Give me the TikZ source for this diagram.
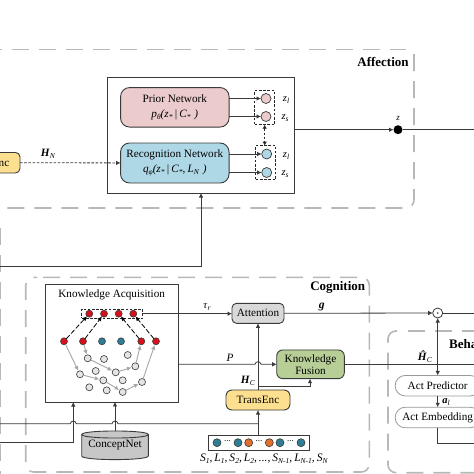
\documentclass[tikz,border=0pt]{standalone}
\usepackage{fontspec}
\setmainfont{Liberation Serif}
\usetikzlibrary{arrows.meta}
\definecolor{ln}{HTML}{3A3A3A}
\definecolor{dashgray}{HTML}{B8B8B8}
\definecolor{priorfill}{HTML}{EBCBCB}
\definecolor{recfill}{HTML}{AFD8E6}
\definecolor{yel}{HTML}{FDE08F}
\definecolor{grn}{HTML}{B7CF97}
\definecolor{redn}{HTML}{D9101C}
\definecolor{tealn}{HTML}{2E7F95}
\definecolor{orgn}{HTML}{E0702B}
\newcommand\fs[1]{\fontsize{#1}{#1}\selectfont}
\newcommand\lo[1]{\raisebox{-0.4ex}{\fs{7.5}\textit{#1}}}
\newcommand\cm{\textit{,}\kern2pt}
\tikzset{
 x=1pt,y=-1pt,
 wire/.style={draw=ln,line width=0.8pt},
 arr/.style={wire,-{Latex[length=4.5pt,width=4.5pt]}},
 darr/.style={wire,{Latex[length=4.5pt,width=4.5pt]}-{Latex[length=4.5pt,width=4.5pt]}},
 dwire/.style={draw=black!85,line width=0.8pt,dash pattern=on 2.6pt off 1.6pt},
 area/.style={draw=dashgray,line width=1.6pt,dash pattern=on 17pt off 10pt,rounded corners=8pt},
 bx/.style={draw=ln,line width=0.9pt,inner sep=0pt,outer sep=0pt,align=center},
 rbx/.style={bx,rounded corners=4.5pt,font=\fs{11.2}},
 sq/.style={draw=ln,line width=0.9pt,fill=white,inner sep=0pt,outer sep=0pt},
 dbox/.style={dwire,inner sep=0pt,outer sep=0pt},
 lat/.style={circle,draw=ln,line width=0.7pt,minimum size=10pt,inner sep=0pt,outer sep=0pt},
 kn/.style={circle,draw=ln,line width=0.6pt,minimum size=7pt,inner sep=0pt,outer sep=0pt},
 rn/.style={kn,fill=redn},
 tn/.style={kn,fill=tealn},
 gn/.style={kn,fill=black!10},
 sn/.style={circle,draw=ln,line width=0.6pt,minimum size=8pt,inner sep=0pt,outer sep=0pt},
 lab/.style={inner sep=0pt,font=\fs{11.2}},
 ttl/.style={inner sep=0pt,font=\fs{13}\bfseries},
 actb/.style={draw=black!40,line width=0.8pt,rounded corners=10pt,inner sep=0pt,outer sep=0pt,minimum width=85pt,minimum height=20.5pt,fill=white,font=\fs{11.2}},
 garr/.style={draw=black!35,line width=0.9pt,-{Latex[length=4.5pt,width=4.5pt]},shorten >=0.5pt},
 karr/.style={draw=black,line width=0.8pt,dash pattern=on 5pt off 2pt,-{Latex[length=4.5pt,width=4.5pt]}},
}
\begin{document}
\begin{tikzpicture}
\useasboundingbox (0,0) rectangle (474,474);
\clip (0,0) rectangle (474,474);
\fill[white] (0,0) rectangle (474,474);
% dashed areas
\draw[area] (-15.3,49.3) -- (405.7,49.3);
\draw[area] (414,54) -- (414,208) -- (-17,208);
\draw[area] (0.5,228) -- (0.5,480);
\draw[area] (43,277.3) -- (369.3,277.3) -- (369.3,472) -- (25.7,472) -- (25.7,277.3) -- (37,277.3);
\draw[area] (408,331) -- (480,331);
\draw[area] (397,331) -- (388,331) -- (388,472.7) -- (480,472.7);
\node[ttl] (taff) at (383,62) {Affection};
\node[ttl] (tcog) at (337.7,287.7) {Cognition};
\node[ttl,anchor=west] (tbeh) at (449,344) {Behavior};
% Affection
\node[sq,minimum width=186.5pt,minimum height=116pt] (vae) at (200.8,135) {};
\node[rbx,fill=priorfill,rounded corners=9pt,minimum width=108.5pt,minimum height=39.5pt] (prior) at (174.8,107.3) {Prior Network\\[3pt]\textit{p}\lo{θ}\textit{(z}\lo{*}\,\textit{|\,C}\lo{*}\,\textit{\,)}};
\node[rbx,fill=recfill,rounded corners=9pt,minimum width=108.5pt,minimum height=40pt] (rec) at (174.8,163) {Recognition Network\\[3pt]\textit{q}\lo{φ}\textit{(z}\lo{*}\,\textit{|\,C}\lo{*}\cm\textit{L}\lo{N}\,\textit{\,)}};
\node[rbx,fill=yel,minimum width=64pt,minimum height=20.5pt] (henc) at (-12,162.7) {TransEnc};
\node[lat,fill=priorfill] (pl) at (266,98.5) {};
\node[lat,fill=priorfill] (ps) at (266,116.5) {};
\node[lat,fill=recfill] (rl) at (266.7,154) {};
\node[lat,fill=recfill] (rs) at (266.7,172.5) {};
\node[dbox,draw,minimum width=20pt,minimum height=34pt] (pbox) at (264.7,107.7) {};
\node[dbox,draw,minimum width=20pt,minimum height=34pt] (rbox) at (265.7,162.6) {};
\draw[arr] (prior.east |- pl) -- (pl);
\draw[arr] (prior.east |- ps) -- (ps);
\draw[arr] (rec.east |- rl) -- (rl);
\draw[arr] (rec.east |- rs) -- (rs);
\draw[dwire,{Latex[length=4pt,width=4.5pt]}-{Latex[length=4pt,width=4.5pt]}] (pbox.south) -- (pbox.south |- rbox.north);
\node[lab,font=\fs{10.5}] (zl1) at (286,100) {\textit{z}\lo{l}};
\node[lab,font=\fs{10.5}] (zs1) at (285,118) {\textit{z}\lo{s}};
\node[lab,font=\fs{10.5}] (zl2) at (286,156) {\textit{z}\lo{l}};
\node[lab,font=\fs{10.5}] (zs2) at (285,174) {\textit{z}\lo{s}};
\draw[wire,dash pattern=on 2.6pt off 1.6pt,-{Latex[length=4.5pt,width=4.5pt]}] (henc) -- (rec);
\node[lab] (hn) at (48,154) {\textbf{\textit{H}}\lo{N}};
\node[circle,fill=black,minimum size=9pt,inner sep=0pt,outer sep=0pt] (zdot) at (398,129.7) {};
\node[lab,font=\fs{9}] (zlab) at (398,118.5) {\textit{z}};
\draw[arr] (vae.east |- zdot) -- (zdot);
\coordinate (zend) at (480,129.7);
\draw[wire] (zdot) -- (zend);
\coordinate (vl) at (0,266);
\draw[wire,-{Latex[length=4.5pt,width=4.5pt]}] (vl) -- (201,266) -- (201,193);
% Knowledge acquisition
\node[sq,minimum width=133.3pt,minimum height=117.3pt] (ka) at (111.7,343.3) {};
\node[lab] (kat) at (111.7,295) {Knowledge Acquisition};
\node[rn] (t1) at (89.3,313.7) {};
\node[rn] (t2) at (104,313.7) {};
\node[rn] (t3) at (118.7,313.7) {};
\node[rn] (t4) at (133.3,313.7) {};
\node[dbox,draw,minimum width=60.6pt,minimum height=9.3pt] (tbox) at (112,313.7) {};
\node[rn] (m1) at (64,341.3) {};
\node[rn] (m2) at (83,341.3) {};
\node[tn] (m3) at (102,341.3) {};
\node[tn] (m4) at (121,341.3) {};
\node[rn] (m5) at (141.3,341.3) {};
\node[rn] (m6) at (156,341.3) {};
\node[gn] (g1) at (87.7,358.3) {};
\node[gn] (g2) at (104,359) {};
\node[gn] (g3) at (127.7,355) {};
\node[gn] (g4) at (135.3,366.3) {};
\node[gn] (g5) at (115.7,372.3) {};
\node[gn] (g6) at (95.7,371) {};
\node[gn] (g7) at (80,374.3) {};
\node[gn] (g8) at (103.3,380.3) {};
\node[gn] (g9) at (122.7,380.3) {};
\node[gn] (g10) at (142,382) {};
\node[gn] (g11) at (89.3,387.3) {};
\node[gn] (g12) at (106.7,390.3) {};
\node[gn] (g13) at (122.7,392) {};
\draw[garr] (m1) -- (g7);
\draw[garr] (g7) -- (g8);
\draw[garr] (g8) -- (g13);
\draw[garr] (g13) -- (g10);
\draw[garr] (g10) -- (m6);
\draw[garr] (m2) -- (g1);
\draw[garr] (g1) -- (g5);
\draw[garr] (g5) -- (g4);
\draw[garr] (g4) -- (m5);
\draw[karr] (m1) -- (t1);
\draw[karr] (m2) -- (t2);
\draw[karr] (m5) -- (t3);
\draw[karr] (m6) -- (t4);
% Cognition
\node[rbx,fill=black!15,minimum width=52pt,minimum height=20pt] (att) at (258,313.3) {Attention};
\node[rbx,fill=grn,minimum width=67.6pt,minimum height=28.7pt,rounded corners=6pt] (kf) at (310.5,364.3) {Knowledge\\[1pt]Fusion};
\node[rbx,fill=yel,rounded corners=6pt,minimum width=64pt,minimum height=20pt] (te) at (258,400) {TransEnc};
\node[sq,minimum width=100.7pt,minimum height=15pt] (seq) at (258.7,442.5) {};
\node[sn,fill=tealn] (s1) at (217,442.7) {};
\node[sn,fill=tealn] (s2) at (238,442.7) {};
\node[sn,fill=orgn] (s3) at (248.7,442.7) {};
\node[sn,fill=orgn] (s4) at (269.3,442.7) {};
\node[sn,fill=tealn] (s5) at (280,442.7) {};
\node[sn,fill=tealn] (s6) at (301,442.7) {};
\node[lab,font=\fs{9}] (d1) at (227.5,441.5) {...};
\node[lab,font=\fs{9}] (d2) at (259,441.5) {...};
\node[lab,font=\fs{9}] (d3) at (290.5,441.5) {...};
\node[lab,font=\fs{11.5}] (seqt) at (264,458.3) {\textit{S}\lo{1}\cm\textit{L}\lo{1}\cm\textit{S}\lo{2}\cm\textit{L}\lo{2}\cm\textit{...}\cm\textit{S}\lo{N-1}\cm\textit{L}\lo{N-1}\cm\textit{S}\lo{N}};
% ConceptNet drum
\fill[black!22] (81.7,434.5) .. controls (81.7,429.8) and (148.3,429.8) .. (148.3,434.5) -- (148.3,456) .. controls (148.3,460.8) and (81.7,460.8) .. (81.7,456) -- cycle;
\draw[ln,line width=0.9pt] (81.7,434.5) .. controls (81.7,429.8) and (148.3,429.8) .. (148.3,434.5) -- (148.3,456) .. controls (148.3,460.8) and (81.7,460.8) .. (81.7,456) -- cycle;
\draw[ln,line width=0.9pt] (81.7,434.5) .. controls (81.7,439.2) and (148.3,439.2) .. (148.3,434.5);
\node[lab,minimum width=66.6pt,minimum height=27.3pt] (cn) at (115,445.3) {ConceptNet};
\draw[arr] (tbox.east) -- (att.west |- tbox.east);
\node[lab,font=\fs{10.5}] (tau) at (207,307) {\textit{τ}\lo{r}};
\node[lab,font=\fs{11.5}] (glab) at (321.7,307) {\textbf{\textit{g}}};
\node[lab] (plab) at (230,358) {\textit{P}};
\node[lab] (hc) at (248,381) {\textbf{\textit{H}}\lo{C}};
\draw[arr] (te.north) -- (att.south);
\coordinate (hcb) at (258,386.7);
\draw[wire,-{Latex[length=4.5pt,width=4.5pt]}] (hcb) -- (310,386.7) -- (310,378.7);
\draw[arr] (ka.east |- kf.west) -- (255,364.3) .. controls (255.5,360.8) and (260.5,360.8) .. (261,364.3) -- (kf.west);
\draw[arr] (te.south |- seq.north) -- (te.south);
\coordinate (ll1) at (0,423.7);
\draw[wire] (ll1) -- (70.3,423.7) .. controls (70.8,420.2) and (75.8,420.2) .. (76.3,423.7) -- (112,423.7) .. controls (112.5,420.2) and (117.5,420.2) .. (118,423.7) -- (258,423.7);
\coordinate (ll2) at (0,442);
\coordinate (kin) at (73.3,402);
\draw[wire,-{Latex[length=4.5pt,width=4.5pt]}] (ll2) -- (73.3,442) -- (kin);
\draw[arr] (cn.north) -- (cn.north |- ka.south);
% Output & Behavior
\node[circle,draw=ln,line width=0.8pt,fill=white,minimum size=10pt,inner sep=0pt,outer sep=0pt] (odot) at (437.7,313) {};
\fill[ln] (odot.center) circle[radius=0.9pt];
\draw[arr] (att.east) -- (odot.west);
\coordinate (oend) at (480,313);
\draw[wire] (odot.east) -- (oend);
\node[actb] (ap) at (437.7,385.7) {Act Predictor};
\node[actb] (ae) at (437.7,417.5) {Act Embedding};
\draw[darr] (odot.south) -- (ap.north);
\coordinate (kfend) at (480,364.3);
\draw[wire] (kf.east) -- (kfend);
\node[lab] (hhat) at (425,356.7) {\textbf{\textit{Ĥ}}\lo{C}};
\draw[arr] (ap.south) -- (ae.north);
\node[lab,font=\fs{10.5}] (al) at (446,402) {\textbf{\textit{a}}\lo{l}};
\coordinate (aend) at (480,443);
\draw[wire] (ae.south) -- (437.7,443) -- (aend);
\end{tikzpicture}
\end{document}
